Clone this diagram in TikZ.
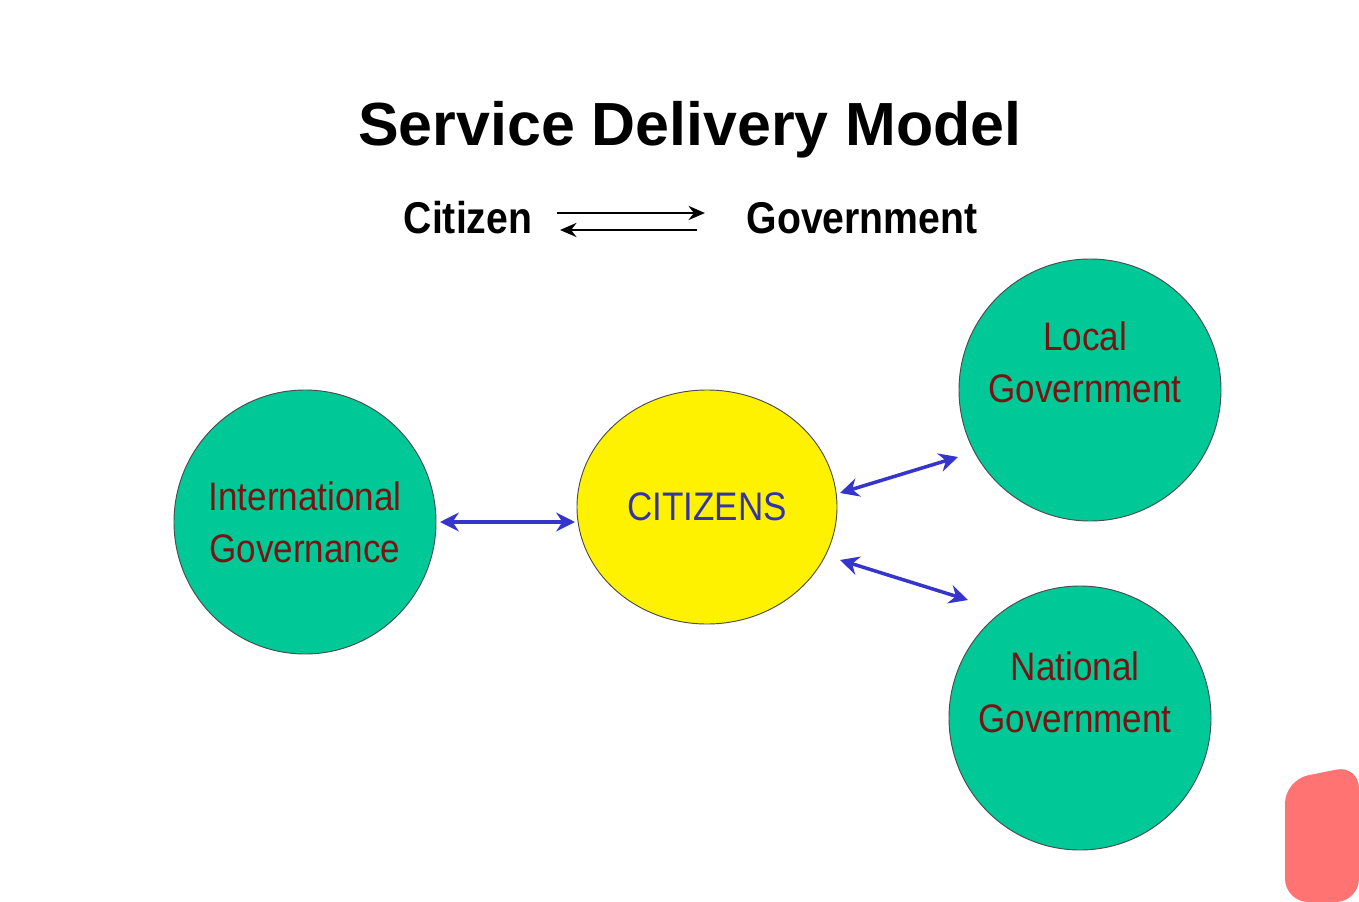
\documentclass[tikz,border=0pt]{standalone}
\usepackage{fontspec}
\setmainfont{Liberation Sans}
\usetikzlibrary{arrows.meta}
\definecolor{grn}{HTML}{00C896}
\definecolor{txtred}{HTML}{7A1414}
\definecolor{arrblue}{HTML}{3535CC}
\definecolor{cittxt}{HTML}{3434A8}
\tikzset{
 circ/.style={draw=black!70,line width=0.8pt,fill=grn,ellipse stretch},
 lbl/.style={text=txtred,font=\fontsize{34}{44}\selectfont,align=center,xscale=0.88},
 barrow/.style={arrblue,line width=3pt,{Stealth[length=16pt,width=16pt]}-{Stealth[length=16pt,width=16pt]}},
 karrow/.style={black,line width=2.5pt,-{Stealth[length=14pt,width=12pt]}}
}
\begin{document}
\begin{tikzpicture}[x=0.03cm,y=-0.03cm]
\useasboundingbox (0,0) rectangle (1359,902);
\fill[white] (0,0) rectangle (1359,902);
% red blob
\fill[red!55!white,rounded corners=20pt] (1285,780) -- (1359,765) -- (1359,902) -- (1285,902) -- cycle;
\node[font=\bfseries\fontsize{52}{60}\selectfont] (title) at (690,130) {Service Delivery Model};
\node[font=\bfseries\fontsize{38}{44}\selectfont,xscale=0.88] (cit) at (468,218) {Citizen};
\node[font=\bfseries\fontsize{38}{44}\selectfont,xscale=0.88] (gov) at (862,218) {Government};
\coordinate (a1) at (557,213); \coordinate (a2) at (705,213);
\coordinate (b1) at (697,230); \coordinate (b2) at (560,230);
\draw[karrow] (a1) -- (a2);
\draw[karrow] (b1) -- (b2);
\fill[grn,draw=black!70,line width=0.8pt] (305,522) ellipse [x radius=131,y radius=132];
\fill[yellow,draw=black!70,line width=0.8pt] (707,507) ellipse [x radius=130,y radius=117];
\fill[grn,draw=black!70,line width=0.8pt] (1090,390) ellipse [x radius=131,y radius=131];
\fill[grn,draw=black!70,line width=0.8pt] (1080,718) ellipse [x radius=131,y radius=132];
\node[lbl] (intl) at (305,522) {International\\Governance};
\node[text=cittxt,font=\fontsize{34}{44}\selectfont,xscale=0.88] (citz) at (707,507) {CITIZENS};
\node[lbl] (local) at (1085,362) {Local\\Government};
\node[lbl] (natl) at (1075,692) {National\\Government};
\coordinate (i1) at (440,522); \coordinate (c1) at (575,522);
\coordinate (c2) at (840,493); \coordinate (l1) at (958,457);
\coordinate (c3) at (840,560); \coordinate (n1) at (968,600);
\draw[barrow] (i1) -- (c1);
\draw[barrow] (c2) -- (l1);
\draw[barrow] (c3) -- (n1);
\end{tikzpicture}
\end{document}
